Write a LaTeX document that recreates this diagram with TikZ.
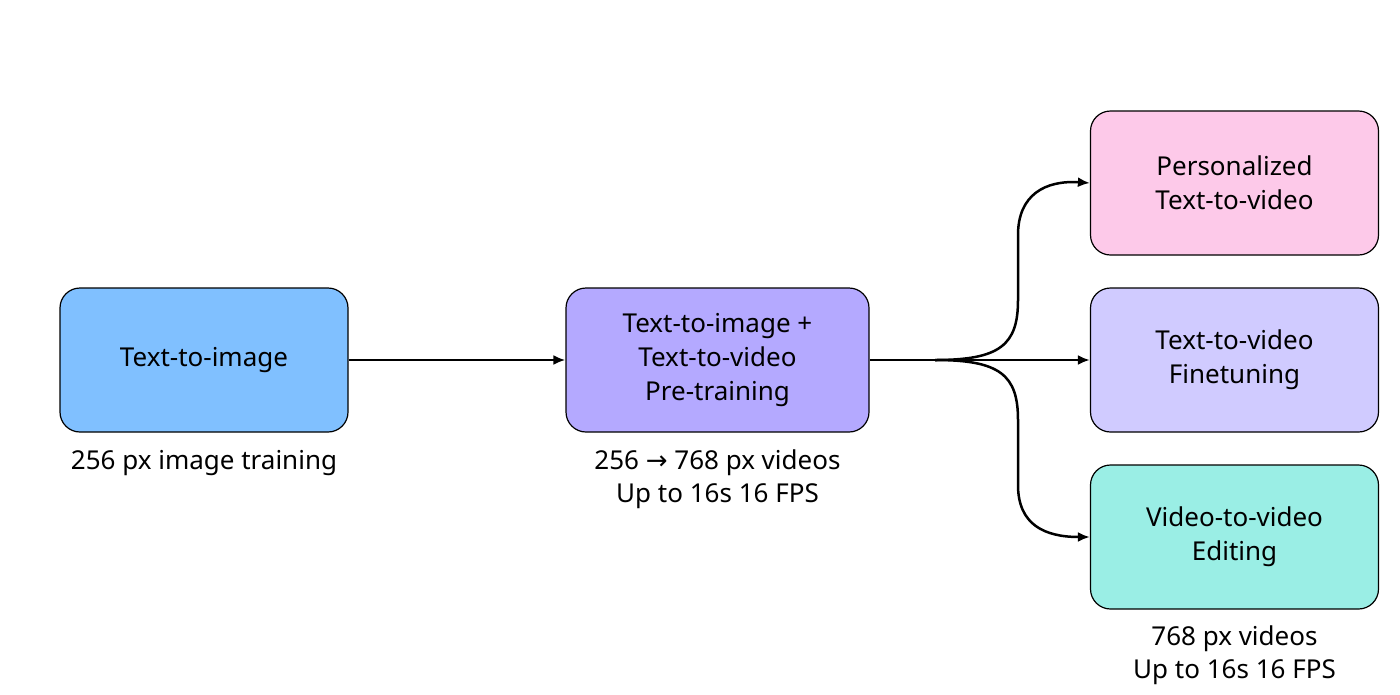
\documentclass[tikz,border=0pt]{standalone}
\usepackage{fontspec}
\setmainfont{Noto Sans}
\newfontfamily\symfont{DejaVu Sans}
\usetikzlibrary{arrows.meta}
\definecolor{cA}{HTML}{80C0FF}
\definecolor{cB}{HTML}{B4A9FF}
\definecolor{cC}{HTML}{FDC9E9}
\definecolor{cD}{HTML}{D0CBFF}
\definecolor{cE}{HTML}{9AEEE5}
\begin{document}
\begin{tikzpicture}[x=1pt,y=-1pt,
  box/.style={draw=black,line width=1.2pt,rounded corners=20pt,minimum width=288pt,minimum height=144pt,align=center,font=\fontsize{26}{34}\selectfont,inner sep=0pt},
  captext/.style={align=center,font=\fontsize{26}{33}\selectfont,inner sep=0pt},
  conn/.style={line width=2.5pt,-{Latex[length=12pt,width=10pt]}}]
\useasboundingbox (0,0) rectangle (1400,694);
\node[box,fill=cA] (a) at (204,360) {Text-to-image};
\node[box,fill=cB,minimum width=303pt] (b) at (717.5,360) {Text-to-image +\\Text-to-video\\Pre-training};
\node[box,fill=cC] (c) at (1234.5,183) {Personalized\\Text-to-video};
\node[box,fill=cD] (d) at (1234.5,360) {Text-to-video\\Finetuning};
\node[box,fill=cE] (e) at (1234.5,537) {Video-to-video\\Editing};
\node[captext] (ca) at (204,463) {256 px image training};
\node[captext] (cb) at (717.5,479) {256 {\symfont →} 768 px videos\\Up to 16s 16 FPS};
\node[captext] (ce) at (1234.5,655) {768 px videos\\Up to 16s 16 FPS};
\coordinate (s) at (935,360);
\draw[conn] (a) -- (b);
\draw[line width=2.5pt] (b.east) -- (s);
\draw[conn] (s) -- (d.west);
\draw[conn] (s) .. controls (1000,360) and (1018,345) .. (1018,300) -- (1018,235) .. controls (1018,195) and (1045,180) .. (c.west);
\draw[conn] (s) .. controls (1000,360) and (1018,375) .. (1018,420) -- (1018,485) .. controls (1018,525) and (1045,537) .. (e.west);
\end{tikzpicture}
\end{document}
